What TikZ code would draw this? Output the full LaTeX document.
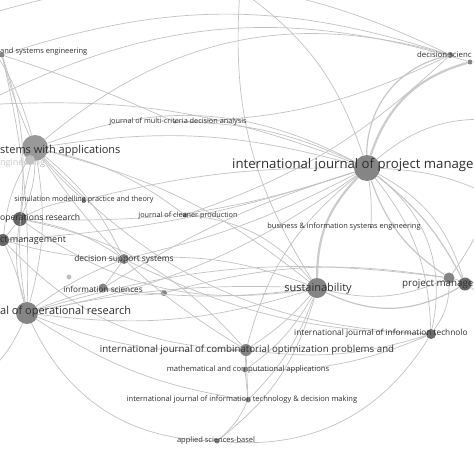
\documentclass[tikz,border=0pt]{standalone}
\usepackage{fontspec}
\setmainfont{Open Sans}
\begin{document}
\begin{tikzpicture}[x=1pt,y=-1pt,
  edge/.style={draw=black!24, line width=0.7pt},
  medge/.style={draw=black!22, line width=1.2pt},
  tedge/.style={draw=black!20, line width=2.2pt},
  vnode/.style={circle, fill=black!48, inner sep=0pt, draw=none},
  lnode/.style={circle, fill=black!25, inner sep=0pt, draw=none},
  lab/.style={text=black!82, inner sep=0pt},
  flab/.style={text=black!22, inner sep=0pt}]
\useasboundingbox (0,0) rectangle (474,474);
\clip (0,0) rectangle (474,474);
% nodes
\node[vnode, minimum size=26pt] (ijpm) at (367,168) {};
\node[vnode, minimum size=26pt, fill=black!40] (eswa) at (35,148) {};
\node[vnode, minimum size=22pt] (ejor) at (27,313) {};
\node[vnode, minimum size=14pt, fill=black!60] (cor) at (20,219) {};
\node[vnode, minimum size=12pt, fill=black!60] (pm) at (3,240) {};
\node[vnode, minimum size=10pt] (dss) at (124,259) {};
\node[vnode, minimum size=9pt] (infs) at (103,288) {};
\node[vnode, minimum size=20pt] (sust) at (317,288) {};
\node[vnode, minimum size=11pt] (pmj1) at (449,278) {};
\node[vnode, minimum size=13pt, fill=black!58] (pmj2) at (465,284) {};
\node[vnode, minimum size=10pt, fill=black!58] (ijit) at (431,334) {};
\node[vnode, minimum size=12pt] (ijco) at (246,350) {};
\node[vnode, minimum size=5pt] (mca) at (245,370) {};
\node[vnode, minimum size=5pt] (ijitdm) at (248,400) {};
\node[vnode, minimum size=5pt] (asb) at (217,441) {};
\node[vnode, minimum size=6pt] (dsci) at (450,55) {};
\node[vnode, minimum size=5pt] (dsci2) at (470,62) {};
\node[vnode, minimum size=3pt] (jmcda) at (175,122) {};
\node[vnode, minimum size=5pt] (smpt) at (84,200) {};
\node[vnode, minimum size=5pt] (jcp) at (185,215) {};
\node[vnode, minimum size=3pt] (bise) at (371,227) {};
\node[vnode, minimum size=6pt] (dota) at (164,293) {};
\node[lnode, minimum size=5pt] (dotb) at (69,277) {};
\node[vnode, minimum size=5pt] (ase) at (2,55) {};
\node[lnode, minimum size=10pt] (cie) at (30,160) {};
% off-canvas ends
\coordinate (offa) at (-30,20);
\coordinate (offb) at (-20,105);
\coordinate (offc) at (500,120);
\coordinate (offd) at (500,200);
\coordinate (offe) at (500,330);
\coordinate (offf) at (-20,380);
\coordinate (offg) at (240,-10);
% edges
\draw[tedge] (ijpm) to[bend right=22] (sust);
\draw[tedge] (ijpm) to[bend left=28] (dsci2);
\draw[medge] (ijpm) to[bend left=38] (dsci);
\draw[medge] (ijpm) to[bend right=18] (pmj1);
\draw[medge] (ijpm) to[bend left=12] (pmj2);
\draw[edge] (ijpm) to[bend left=18] (ijit);
\draw[edge] (ijpm) to[bend right=12] (eswa);
\draw[edge] (ijpm) to[bend right=24] (eswa);
\draw[edge] (ijpm) to[bend left=10] (cor);
\draw[edge] (ijpm) to[bend left=7] (pm);
\draw[edge] (ijpm) to[bend left=12] (ejor);
\draw[edge] (ijpm) to[bend left=7] (dss);
\draw[edge] (ijpm) to[bend right=12] (jmcda);
\draw[edge] (ijpm) to[bend right=18] (ijco);
\draw[edge] (ijpm) to[bend left=5] (bise);
\draw[edge] (ijpm) to[bend right=7] (smpt);
\draw[edge] (ijpm) to[bend right=12] (offb);
\draw[edge] (ijpm) to[bend right=18] (offg);
\draw[edge] (ijpm) to[bend left=22] (offc);
\draw[edge] (ijpm) to[bend left=12] (offd);
\draw[edge] (ijpm) to[bend right=7] (infs);
\draw[medge] (sust) to[bend right=28] (pmj2);
\draw[edge] (sust) to[bend left=12] (ejor);
\draw[edge] (sust) to[bend right=7] (ejor);
\draw[edge] (sust) to[bend right=12] (eswa);
\draw[edge] (sust) to[bend left=7] (ijco);
\draw[edge] (sust) to[bend right=12] (dss);
\draw[edge] (sust) to[bend left=7] (infs);
\draw[edge] (sust) to[bend left=18] (asb);
\draw[edge] (sust) to[bend left=12] (mca);
\draw[edge] (sust) to[bend right=18] (pmj1);
\draw[edge] (sust) to[bend left=22] (cor);
\draw[edge] (sust) to[bend right=22] (jcp);
\draw[edge] (sust) to[bend left=18] (offg);
\draw[edge] (ijit) to[bend left=12] (ijco);
\draw[edge] (ijit) to[bend right=18] (pmj1);
\draw[edge] (ijit) to[bend right=32] (ijpm);
\draw[edge] (ijit) to[bend left=22] (eswa);
\draw[edge] (pmj2) to[bend right=22] (ijpm);
\draw[edge] (pmj2) to[bend left=22] (offe);
\draw[edge] (pmj1) to[bend left=10] (pmj2);
\draw[edge] (pmj1) to[bend right=12] (ejor);
\draw[edge] (pmj1) to[bend right=18] (offc);
\draw[edge] (ejor) to[bend right=12] (eswa);
\draw[edge] (ejor) to[bend left=12] (eswa);
\draw[edge] (ejor) to[bend left=12] (cor);
\draw[edge] (ejor) to[bend right=5] (pm);
\draw[edge] (ejor) to[bend left=7] (dss);
\draw[edge] (ejor) to[bend left=3] (infs);
\draw[edge] (ejor) to[bend right=12] (ijco);
\draw[edge] (ejor) to[bend right=32] (asb);
\draw[edge] (ejor) to[bend left=12] (offf);
\draw[edge] (ejor) to[bend right=12] (ijitdm);
\draw[edge] (eswa) to[bend left=12] (cor);
\draw[edge] (eswa) to[bend right=12] (pm);
\draw[edge] (eswa) to[bend left=5] (ase);
\draw[edge] (eswa) to[bend left=28] (dsci);
\draw[edge] (eswa) to[bend right=5] (smpt);
\draw[edge] (eswa) to[bend left=12] (dss);
\draw[edge] (eswa) to[bend left=12] (jcp);
\draw[edge] (eswa) to[bend right=12] (ijco);
\draw[edge] (eswa) to[bend right=12] (offa);
\draw[edge] (ase) to[bend left=12] (cor);
\draw[edge] (ase) to[bend left=7] (ejor);
\draw[edge] (ase) to[bend left=3] (jmcda);
\draw[edge] (ase) to[bend left=18] (dsci);
\draw[edge] (offa) to[bend left=22] (dsci);
\draw[edge] (offb) to[bend left=22] (dsci2);
\draw[edge] (cor) to (pm);
\draw[edge] (cor) to[bend left=12] (dss);
\draw[edge] (cor) to[bend left=18] (ijco);
\draw[edge] (cor) to[bend left=12] (smpt);
\draw[edge] (pm) to[bend right=7] (dss);
\draw[edge] (pm) to[bend right=22] (ijco);
\draw[edge] (dss) to (infs);
\draw[edge] (dss) to[bend right=12] (ijit);
\draw[edge] (infs) to[bend right=12] (dota);
\draw[edge] (ijco) to (mca);
\draw[edge] (ijco) to (ijitdm);
\draw[edge] (mca) to (ijitdm);
\draw[edge] (ijitdm) to[bend left=12] (asb);
\draw[edge] (asb) to[bend right=32] (ijit);
\draw[edge] (mca) to[bend right=12] (ijit);
\draw[edge] (ijitdm) to[bend right=12] (sust);
\draw[edge] (jmcda) to[bend right=12] (dsci);
\draw[edge] (jcp) to[bend right=12] (dsci);
\draw[edge] (dota) to[bend left=12] (pmj1);
% labels
\node[flab, anchor=west, font=\fontsize{9}{9}\selectfont] at (0,163) {ngineering};
\node[lab, anchor=west, font=\fontsize{13.2}{13.2}\selectfont] at (232,165) {international journal of project manage};
\node[lab, anchor=west, font=\fontsize{11}{11}\selectfont] at (0,151) {stems with applications};
\node[lab, anchor=west, font=\fontsize{7.5}{7.5}\selectfont] at (0,52) {and systems engineering};
\node[lab, font=\fontsize{7.3}{7.3}\selectfont] at (178,122) {journal of multi-criteria decision analysis};
\node[lab, font=\fontsize{7.3}{7.3}\selectfont] at (84,200) {simulation modelling practice and theory};
\node[lab, font=\fontsize{7.3}{7.3}\selectfont] at (188,216) {journal of cleaner production};
\node[lab, anchor=west, font=\fontsize{8.6}{8.6}\selectfont] at (0,218) {operations research};
\node[lab, anchor=west, font=\fontsize{9}{9}\selectfont] at (0,241) {ct management};
\node[lab, font=\fontsize{8.4}{8.4}\selectfont] at (124,259) {decision support systems};
\node[lab, font=\fontsize{8.2}{8.2}\selectfont] at (103,289) {information sciences};
\node[lab, anchor=west, font=\fontsize{11}{11}\selectfont] at (0,312) {al of operational research};
\node[lab, font=\fontsize{11}{11}\selectfont] at (318,289) {sustainability};
\node[lab, anchor=west, font=\fontsize{9.8}{9.8}\selectfont] at (402,284) {project manage};
\node[lab, anchor=west, font=\fontsize{8.3}{8.3}\selectfont] at (294,333) {international journal of information technolo};
\node[lab, font=\fontsize{9.7}{9.7}\selectfont] at (247,350) {international journal of combinatorial optimization problems and};
\node[lab, font=\fontsize{7.6}{7.6}\selectfont] at (248,370) {mathematical and computational applications};
\node[lab, font=\fontsize{7.5}{7.5}\selectfont] at (242,400) {international journal of information technology \& decision making};
\node[lab, font=\fontsize{7.5}{7.5}\selectfont] at (216,441) {applied sciences-basel};
\node[lab, font=\fontsize{7.4}{7.4}\selectfont] at (344,227) {business \& information systems engineering};
\node[lab, anchor=west, font=\fontsize{7.8}{7.8}\selectfont] at (417,55) {decision scienc};
\end{tikzpicture}
\end{document}
